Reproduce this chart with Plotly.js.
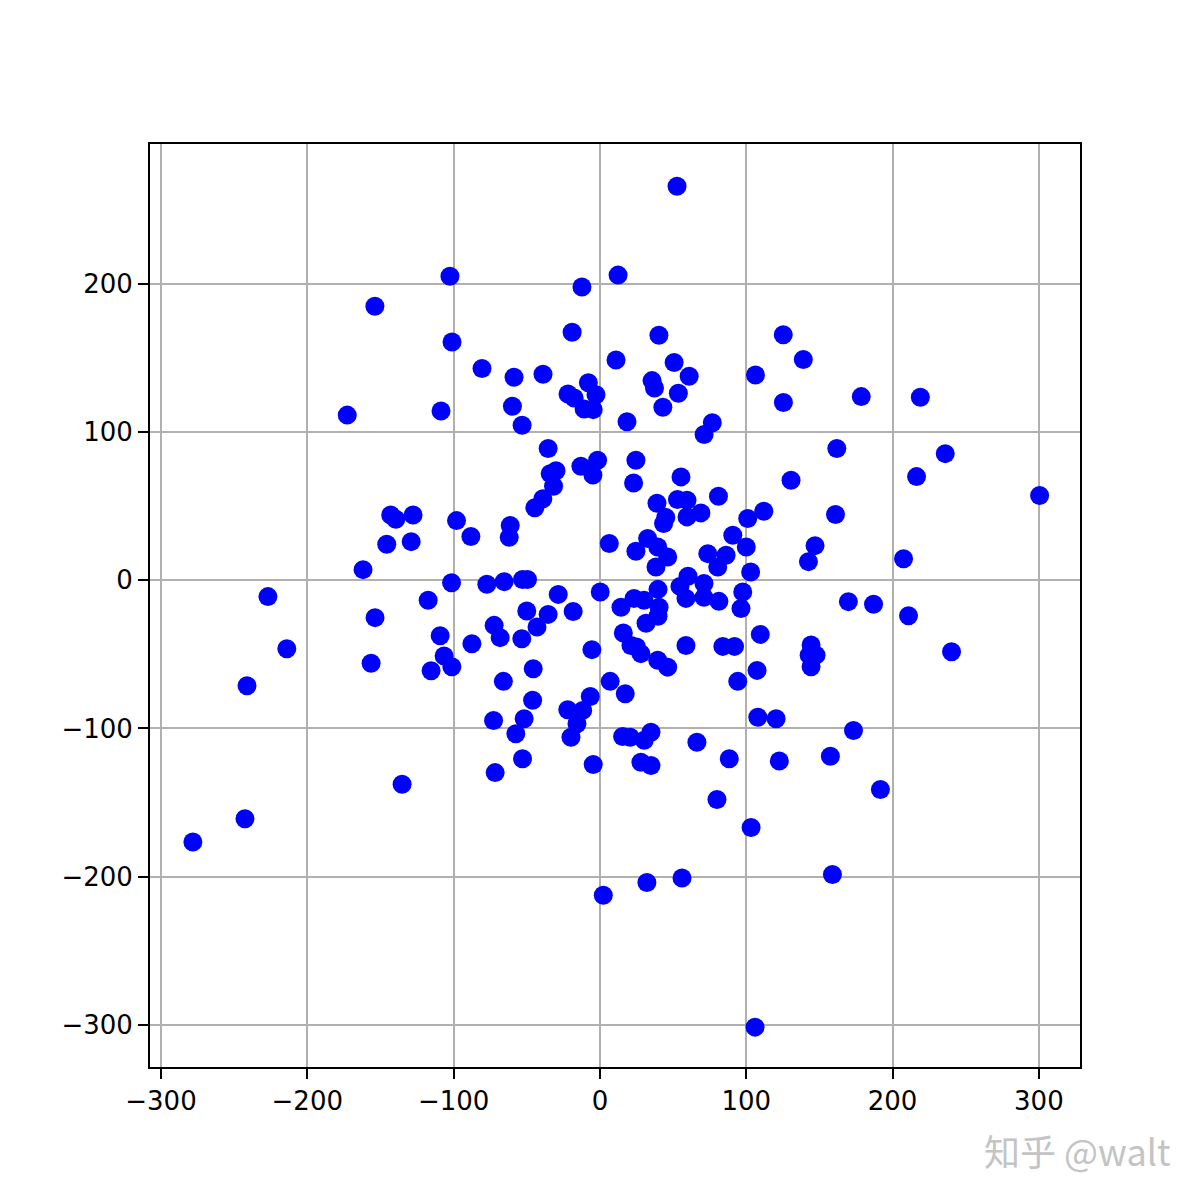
<!DOCTYPE html>
<html>
<head>
<meta charset="utf-8">
<script src="https://cdn.plot.ly/plotly-3.0.1.min.js"></script>
<style>html,body{margin:0;padding:0;background:#fff;}#chart{width:1200px;height:1200px;}</style>
</head>
<body>
<div id="chart"></div>
<script>
const xValues = [
  52.7, -102.5, 12.4, -12.3, -153.8, -19, 40.3, 125.3, -101.1, 11,
  139, 50.7, -80.6, -58.7, -38.9, 61, 106.3, 35.6, -7.9, 37.3,
  -21.8, -17.6, -2.7, 53.6, 178.6, 219, 125.4, -59.8, 43, -10.8,
  -4.6, -172.7, -108.6, 18.5, 76.8, -53.2, 71.2, -35.4, 161.9, 236,
  -1.6, 24.6, -13, -4.8, -34, -30, 55.4, 130.6, 216.4, -31.7,
  23, 300.5, -39, 81, 53, 59.5, 39, -44.5, 112, 69,
  59.5, 161, 45, 43.5, 101, -143, -139.5, -127.7, -98,
  -61.3, -62, -88.2, 90.8, -145.7, -129, 6.4, 147, 100, 32.6,
  24.6, 39.5, 73.7, 86.2, 46.3, 207.5, 142.5, 38.3, 80.5, -161.9,
  103, 60.2, -52.9, -49.5, -65.5, -77.3, -101.4,
  54.7, 71.1, 39.7, 0.2, 97.6, -28.5, -226.9, 58.8, 71.1, 23.3,
  30.1, 81.3, -117.4, 169.8, 187, 14.4, 40.4, 96.4, -18.3, -50,
  -35.4, 210.9, 39.7, -153.7, 31.5, -72.3, -43, 16, 109.6, -109.2,
  -68.2, -53.4,
  -87.5, 21.2, 25, 58.8, 84, 92, 144.3, -214, -5.5, 240.3,
  28, 143, 147.7, -106.5, 39.5, 144.3, -156.4, 46.3, -101.2, -45.6,
  107.4, -115.4, -66, 7, 94.2, -241.2, 17.3, -6.6,
  -46, -11.8, -22, 107.9, 120.4, -72.7, -51.8, -15.7, 173.3, 34.9,
  -57.5, -19.8, 15.5, 20.7, 30.3, 66.3, 157.5, -52.9, 88.4, 122.6,
  28, -4.6, 34.9, -71.6,
  -135.2, 191.7, 80, -242.6, 103.3, -278.2, 158.9, 56.1, 32.1, 2.3, 106
];
const yValues = [
  266, 205.2, 206, 198, 185, 167.5, 165.4, 165.8, 160.9, 148.7,
  149, 147, 143, 137, 139.1, 137.8, 138.6, 134.8, 133.3, 129.8,
  125.8, 123, 125.2, 126.2, 124, 123.5, 120, 117.5, 116.8, 115.6,
  115.2, 111.5, 114.3, 107, 106.3, 104.7, 98.4, 89, 89, 85.5,
  81, 81, 77, 71, 72, 74, 69.8, 67.5, 70, 63.5,
  65.7, 57.2, 55, 56.8, 54.5, 54, 52, 49, 46.6, 45.5,
  42.8, 44.4, 42.4, 38.3, 41.7, 44.1, 41.2, 44.1, 40.3,
  37, 29, 29.6, 30.4, 24.3, 26.1, 24.8, 23.4, 22.5, 28.2,
  19.6, 22.5, 18, 16.9, 15.7, 14.6, 12.6, 9, 9, 7.2,
  5.6, 2.7, 0.5, 0.5, -0.9, -2.7, -1.6,
  -4.1, -2.2, -6.1, -7.9, -7.9, -9.5, -11, -12.2, -11.5, -12.2,
  -13.5, -14.2, -13.5, -14.4, -16.2, -18.2, -18.2, -19, -21, -20.7,
  -23, -23.9, -24.3, -25.2, -29, -30.4, -31.5, -35.6, -36.5, -37.4,
  -38.7, -39.4,
  -42.8, -44, -45, -44, -44.6, -44.6, -43.7, -46.2, -46.8, -48.2,
  -49.5, -50.5, -50.5, -51.1, -54, -58.3, -56, -58.6, -58.3, -59.7,
  -60.8, -61, -68.2, -68.2, -68.2, -71.2, -76.6, -78.4,
  -81, -87.8, -87.4, -92.4, -93.4, -94.6, -93.4, -96.8, -101.4, -102.5,
  -103.6, -105.9, -105.4, -105.9, -108, -109.3, -118.7, -120.5, -120.5, -122,
  -122.8, -124.3, -125, -129.8,
  -137.6, -141.2, -148, -161, -166.9, -176.6, -198.6, -200.9, -204, -212.6, -301.6
];
const xTicks = [-300, -200, -100, 0, 100, 200, 300];
const yTicks = [-300, -200, -100, 0, 100, 200];
const watermark = "知乎 @walt";

const axisBase = {
  showline: true, mirror: true, linecolor: '#000', linewidth: 2,
  showgrid: true, gridcolor: '#b0b0b0', gridwidth: 2,
  zeroline: false,
  ticks: 'outside', ticklen: 10, tickwidth: 2, tickcolor: '#000',
  tickmode: 'array',
  tickfont: {family: 'DejaVu Sans', size: 26, color: '#000'}
};

const trace = {
  type: 'scatter', mode: 'markers',
  x: xValues, y: yValues,
  marker: {color: '#0000ff', size: 19, line: {width: 0}},
  cliponaxis: true,
  hoverinfo: 'skip'
};

const layout = {
  width: 1200, height: 1200,
  paper_bgcolor: '#fff', plot_bgcolor: '#fff',
  showlegend: false,
  margin: {l: 150, r: 120, t: 144, b: 133, pad: 0},
  xaxis: Object.assign({}, axisBase, {range: [-307.5, 328.1], tickvals: xTicks, ticktext: xTicks.map(v => v < 0 ? '\u2212' + Math.abs(v) : String(v))}),
  yaxis: Object.assign({}, axisBase, {range: [-328.5, 294.5], tickvals: yTicks, ticktext: yTicks.map(v => v < 0 ? '\u2212' + Math.abs(v) : String(v))}),
  annotations: [{
    text: watermark, xref: 'paper', yref: 'paper',
    x: 1.1, y: -0.09, xanchor: 'right', yanchor: 'middle',
    showarrow: false,
    font: {family: 'Noto Sans CJK SC', size: 36, color: '#c4c4c4'}
  }]
};

Plotly.newPlot('chart', [trace], layout, {staticPlot: true, displayModeBar: false});
</script>
</body>
</html>
